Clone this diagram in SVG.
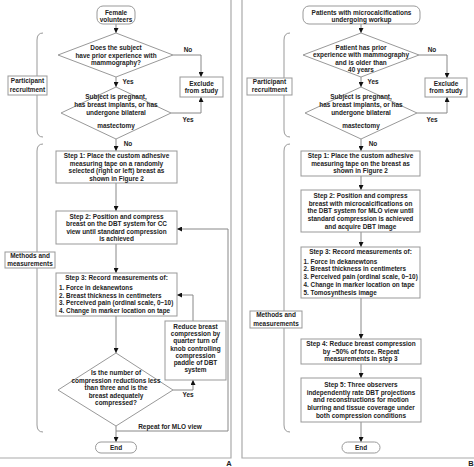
<svg xmlns="http://www.w3.org/2000/svg" width="474" height="467" viewBox="0 0 474 467">
<style>
text{font-family:"Liberation Sans",Arial,sans-serif;font-size:6.45px;font-weight:bold;fill:#222;text-anchor:middle}
.l{text-anchor:start;font-size:6.35px}
.box{fill:#fff;stroke:#999;stroke-width:1}
.frame{fill:none;stroke:#aaa;stroke-width:1.2}
.brace{fill:none;stroke:#999;stroke-width:1}
.c{fill:none;stroke:#888;stroke-width:1}
.ca{fill:none;stroke:#888;stroke-width:1;marker-end:url(#ah)}
.pl{font-size:7.5px}
</style>
<defs>
<marker id="ah" markerWidth="5" markerHeight="5" refX="5" refY="2.5" orient="auto" markerUnits="userSpaceOnUse">
<path d="M0,0 L5,2.5 L0,5 z" fill="#111"/>
</marker>
</defs>

<g id="frames">
<path class="frame" d="M231 0 V458 H0"/>
<path class="frame" d="M242 0 V458 H474"/>
<text class="pl" x="229" y="466">A</text>
<text class="pl" x="471" y="466">B</text>
</g>

<g id="braces">
<path class="brace" d="M43 33 Q37 33 37 40 V130 Q37 137 43 137"/>
<path class="brace" d="M43 144 Q37 144 37 151 V425 Q37 432 43 432"/>
<path class="brace" d="M290 33 Q284 33 284 40 V130 Q284 137 290 137"/>
<path class="brace" d="M290 144 Q284 144 284 151 V425 Q284 432 290 432"/>
</g>

<g id="connectors">
<path class="ca" d="M116 24 V33"/>
<path class="ca" d="M173 55 H201 V77"/>
<path class="ca" d="M116 77 V87"/>
<path class="ca" d="M171 113 H201 V97"/>
<path class="ca" d="M116 139 V151"/>
<path class="ca" d="M116 183 V211"/>
<path class="ca" d="M116 244 V273"/>
<path class="ca" d="M116 316 V353"/>
<path class="ca" d="M173 390 H193 V380"/>
<path class="ca" d="M193 321 V295 H177"/>
<path class="ca" d="M116 426 V442"/>
<path class="ca" d="M116 431 H228 V229 H177"/>
<path class="ca" d="M361 24 V33"/>
<path class="ca" d="M419 55 H447 V78"/>
<path class="ca" d="M361 77 V87"/>
<path class="ca" d="M417 113 H447 V97"/>
<path class="ca" d="M361 139 V151"/>
<path class="ca" d="M361 176 V190"/>
<path class="ca" d="M361 232 V247"/>
<path class="ca" d="M361 298 V339"/>
<path class="ca" d="M361 364 V378"/>
<path class="ca" d="M361 422 V442"/>
</g>

<g id="edge-labels">
<text x="188" y="52.2">No</text>
<text x="128" y="83.5">Yes</text>
<text x="188" y="121.5">Yes</text>
<text x="128" y="146">No</text>
<text x="188" y="397">Yes</text>
<text x="170" y="429">Repeat for MLO view</text>
<text x="432" y="52.2">No</text>
<text x="373" y="83.5">Yes</text>
<text x="432" y="121.5">Yes</text>
<text x="373" y="146">No</text>
</g>

<!-- Panel A -->
<g id="a-start">
<rect class="box" x="97" y="6" width="38" height="18" rx="6"/>
<text x="116" y="14.9">Female</text>
<text x="116" y="21.5">volunteers</text>
</g>
<g id="a-d1">
<polygon class="box" points="116,33 173,55 116,77 58,55"/>
<text x="116" y="50">Does the subject</text>
<text x="116" y="57.5">have prior experience with</text>
<text x="116" y="65">mammography?</text>
</g>
<g id="a-exclude">
<rect class="box" x="180" y="77" width="43" height="20"/>
<text x="201.5" y="85.5">Exclude</text>
<text x="201.5" y="93">from study</text>
</g>
<g id="a-d2">
<polygon class="box" points="116,87 171,113 116,139 61,113"/>
<text x="116" y="99">Subject is pregnant,</text>
<text x="116" y="106.7">has breast implants, or has</text>
<text x="116" y="115">undergone bilateral</text>
<text x="116" y="128">mastectomy</text>
</g>
<g id="a-participant">
<rect class="box" x="8" y="76" width="39" height="19"/>
<text x="27.5" y="83.2">Participant</text>
<text x="27.5" y="91.5">recruitment</text>
</g>
<g id="a-step1">
<rect class="box" x="56" y="151" width="121" height="32"/>
<text x="116.5" y="158.2">Step 1: Place the custom adhesive</text>
<text x="116.5" y="165.8">measuring tape on a randomly</text>
<text x="116.5" y="173.4">selected (right or left) breast as</text>
<text x="116.5" y="181">shown in Figure 2</text>
</g>
<g id="a-step2">
<rect class="box" x="56" y="211" width="121" height="33"/>
<text x="116.5" y="218.9">Step 2: Position and compress</text>
<text x="116.5" y="226.3">breast on the DBT system for CC</text>
<text x="116.5" y="233.8">view until standard compression</text>
<text x="116.5" y="241.2">is achieved</text>
</g>
<g id="a-methods">
<rect class="box" x="5" y="252" width="50" height="16"/>
<text x="30" y="258.2">Methods and</text>
<text x="30" y="265.5">measurements</text>
</g>
<g id="a-step3">
<rect class="box" x="56" y="273" width="121" height="43"/>
<text x="116.5" y="279.9">Step 3: Record measurements of:</text>
<text class="l" x="59" y="290.2">1. Force in dekanewtons</text>
<text class="l" x="59" y="297.7">2. Breast thickness in centimeters</text>
<text class="l" x="59" y="305.3">3. Perceived pain (ordinal scale, 0–10)</text>
<text class="l" x="59" y="312.8">4. Change in marker location on tape</text>
</g>
<g id="a-reduce">
<rect class="box" x="165" y="321" width="61" height="59"/>
<text x="195.5" y="329">Reduce breast</text>
<text x="195.5" y="336.2">compression by</text>
<text x="195.5" y="343.4">quarter turn of</text>
<text x="195.5" y="350.6">knob controlling</text>
<text x="195.5" y="357.8">compression</text>
<text x="195.5" y="365">paddle of DBT</text>
<text x="195.5" y="372.2">system</text>
</g>
<g id="a-d3">
<polygon class="box" points="116,353 173,390 116,426 58,390"/>
<text x="116" y="375">Is the number of</text>
<text x="116" y="382.5">compression reductions less</text>
<text x="116" y="390">than three and is the</text>
<text x="116" y="397.5">breast adequately</text>
<text x="116" y="405.2">compressed?</text>
</g>
<g id="a-end">
<rect class="box" x="95.5" y="442" width="41" height="11" rx="5.5"/>
<text x="116" y="449.6">End</text>
</g>

<!-- Panel B -->
<g id="b-start">
<rect class="box" x="303" y="6" width="117" height="18" rx="6"/>
<text x="361.5" y="14.5">Patients with microcalcifications</text>
<text x="361.5" y="22">undergoing workup</text>
</g>
<g id="b-d1">
<polygon class="box" points="361,33 419,55 361,77 303,55"/>
<text x="361" y="49.5">Patient has prior</text>
<text x="361" y="57">experience with mammography</text>
<text x="361" y="64.5">and is older than</text>
<text x="361" y="72">40 years</text>
</g>
<g id="b-exclude">
<rect class="box" x="425" y="78" width="42" height="19"/>
<text x="446" y="85.5">Exclude</text>
<text x="446" y="93">from study</text>
</g>
<g id="b-d2">
<polygon class="box" points="361,87 417,113 361,139 305,113"/>
<text x="361" y="99">Subject is pregnant,</text>
<text x="361" y="106.7">has breast implants, or has</text>
<text x="361" y="115">undergone bilateral</text>
<text x="361" y="128">mastectomy</text>
</g>
<g id="b-participant">
<rect class="box" x="247" y="78" width="45" height="17"/>
<text x="269.5" y="84.2">Participant</text>
<text x="269.5" y="92">recruitment</text>
</g>
<g id="b-step1">
<rect class="box" x="301" y="151" width="119" height="25"/>
<text x="360.5" y="158.2">Step 1: Place the custom adhesive</text>
<text x="360.5" y="165.9">measuring tape on the breast as</text>
<text x="360.5" y="173.2">shown in Figure 2</text>
</g>
<g id="b-step2">
<rect class="box" x="301" y="190" width="119" height="42"/>
<text x="360.5" y="197.9">Step 2: Position and compress</text>
<text x="360.5" y="205.5">breast with microcalcifications on</text>
<text x="360.5" y="213.2">the DBT system for MLO view until</text>
<text x="360.5" y="221.2">standard compression is achieved</text>
<text x="360.5" y="229">and acquire DBT image</text>
</g>
<g id="b-step3">
<rect class="box" x="301" y="247" width="119" height="51"/>
<text x="360.5" y="253.9">Step 3: Record measurements of:</text>
<text class="l" x="303.5" y="263.9">1. Force in dekanewtons</text>
<text class="l" x="303.5" y="271.3">2. Breast thickness in centimeters</text>
<text class="l" x="303.5" y="278.9">3. Perceived pain (ordinal scale, 0–10)</text>
<text class="l" x="303.5" y="287">4. Change in marker location on tape</text>
<text class="l" x="303.5" y="294.8">5. Tomosynthesis image</text>
</g>
<g id="b-methods">
<rect class="box" x="250" y="311" width="52" height="17"/>
<text x="276" y="317.4">Methods and</text>
<text x="276" y="325.5">measurements</text>
</g>
<g id="b-step4">
<rect class="box" x="301" y="339" width="120" height="25"/>
<text x="361" y="346.4">Step 4: Reduce breast compression</text>
<text x="361" y="354">by ~50% of force. Repeat</text>
<text x="361" y="361.3">measurements in step 3</text>
</g>
<g id="b-step5">
<rect class="box" x="301" y="378" width="120" height="44"/>
<text x="361" y="387.2">Step 5: Three observers</text>
<text x="361" y="394.8">independently rate DBT projections</text>
<text x="361" y="402.3">and reconstructions for motion</text>
<text x="361" y="409.8">blurring and tissue coverage under</text>
<text x="361" y="417.8">both compression conditions</text>
</g>
<g id="b-end">
<rect class="box" x="342" y="442" width="38" height="11" rx="5.5"/>
<text x="361" y="449.6">End</text>
</g>
</svg>
